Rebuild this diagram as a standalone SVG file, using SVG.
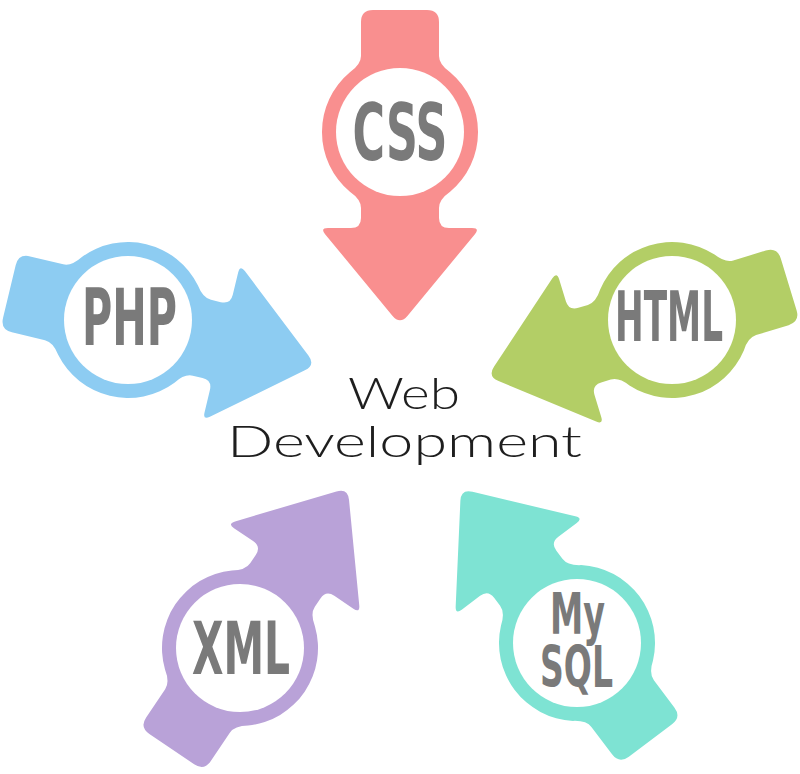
<svg xmlns="http://www.w3.org/2000/svg" xmlns:xlink="http://www.w3.org/1999/xlink" width="800" height="774" viewBox="0 0 800 774">
<style>
.lbl{font-family:"DejaVu Sans Condensed","Liberation Sans Narrow","DejaVu Sans",sans-serif;font-weight:bold;font-stretch:condensed;fill:#7a7a7a;text-anchor:middle}
.title{font-family:"Lato","Open Sans","Liberation Sans",sans-serif;font-weight:300;fill:#1e1e1e;text-anchor:middle}
.hole{fill:#ffffff}
</style>
<defs>
<path id="arrow" d="M -39,-110 Q -39,-122 -27,-122 L 27,-122 Q 39,-122 39,-110 L 39,-76 Q 39,-67.5 50.1,-59.8 A 78 78 0 0 1 50.1,59.8 Q 39,67.5 39,76 L 39,86 Q 39,96 49,96 L 72,96 Q 80,96 74.9,102.2 L 7.6,183.7 Q 0,193 -7.6,183.7 L -74.9,102.2 Q -80,96 -72,96 L -49,96 Q -39,96 -39,86 L -39,76 Q -39,67.5 -50.1,59.8 A 78 78 0 0 1 -50.1,-59.8 Q -39,-67.5 -39,-76 Z"/>
</defs>
<rect width="800" height="774" fill="#ffffff"/>
<g id="css">
<use xlink:href="#arrow" href="#arrow" transform="translate(400 132)" fill="#F98F8F"/>
<circle class="hole" cx="400" cy="132" r="64"/>
<text class="lbl" x="400" y="160" font-size="78" textLength="95" lengthAdjust="spacingAndGlyphs">CSS</text>
</g>
<g id="php">
<use xlink:href="#arrow" href="#arrow" transform="translate(128 320) rotate(-76.5)" fill="#8DCCF2"/>
<circle class="hole" cx="128" cy="320" r="64"/>
<text class="lbl" x="129.5" y="345" font-size="78" textLength="95" lengthAdjust="spacingAndGlyphs">PHP</text>
</g>
<g id="html">
<use xlink:href="#arrow" href="#arrow" transform="translate(672 320) rotate(73)" fill="#B3CE66"/>
<circle class="hole" cx="672" cy="320" r="64"/>
<text class="lbl" x="669" y="341" font-size="70" textLength="108" lengthAdjust="spacingAndGlyphs">HTML</text>
</g>
<g id="xml">
<use xlink:href="#arrow" href="#arrow" transform="translate(240 648) rotate(-146)" fill="#B9A2D8"/>
<circle class="hole" cx="240" cy="648" r="64"/>
<text class="lbl" x="241" y="674" font-size="73" textLength="98" lengthAdjust="spacingAndGlyphs">XML</text>
</g>
<g id="mysql">
<use xlink:href="#arrow" href="#arrow" transform="translate(577 643) rotate(143)" fill="#7EE3D3"/>
<circle class="hole" cx="577" cy="643" r="64"/>
<text class="lbl" x="577.5" y="634" font-size="57" textLength="55" lengthAdjust="spacingAndGlyphs">My</text>
<text class="lbl" x="576.5" y="687" font-size="57" textLength="73" lengthAdjust="spacingAndGlyphs">SQL</text>
</g>
<g id="center">
<text class="title" x="404" y="409" font-size="44" textLength="112" lengthAdjust="spacingAndGlyphs">Web</text>
<text class="title" x="404.5" y="457" font-size="44" textLength="355" lengthAdjust="spacingAndGlyphs">Development</text>
</g>
</svg>
